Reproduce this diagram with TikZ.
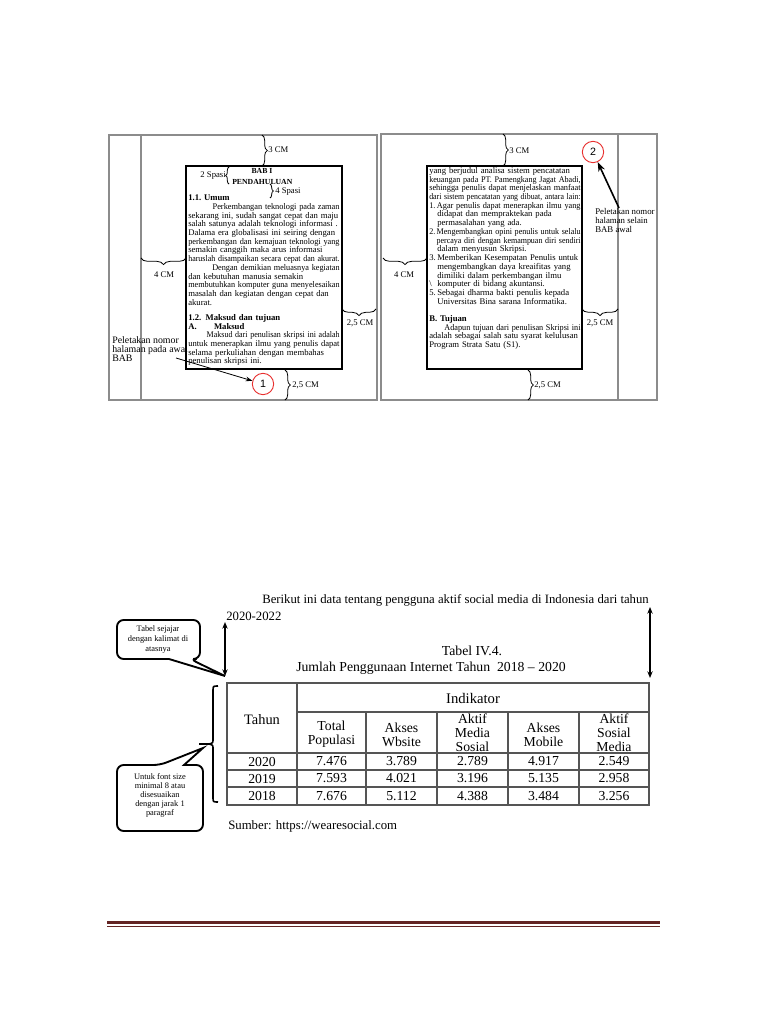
\documentclass[tikz,border=0pt]{standalone}
\usepackage{fontspec}
\setmainfont{Liberation Serif}
\newfontfamily\sansf{Liberation Sans}
\usepackage{graphicx}
\usetikzlibrary{decorations.pathreplacing,arrows.meta}
\setlength\parindent{0pt}
\newlength\bw
\setlength\bw{113.5pt}
\newsavebox\lnbox
\newcommand\jline[1]{\sbox\lnbox{#1}\ifdim\wd\lnbox>\bw\resizebox{\bw}{\height}{\usebox\lnbox}\else\makebox[\bw][s]{#1}\fi}
\newcommand\fline[1]{\sbox\lnbox{#1}\ifdim\wd\lnbox>\bw\resizebox{\bw}{\height}{\usebox\lnbox}\else\makebox[\bw][l]{#1}\fi}
\newcommand\nm[1]{\makebox[6pt][l]{#1}}
\newcommand\ind{\hspace*{6pt}}
\definecolor{framegray}{HTML}{8C8C8C}
\definecolor{numred}{HTML}{E8302F}
\definecolor{footred}{HTML}{632423}
\definecolor{tablegray}{HTML}{555555}
\begin{document}
\begin{tikzpicture}[x=0.75pt,y=-0.75pt,
  panel/.style={draw=framegray,line width=0.8pt},
  pagebox/.style={draw=black,line width=1.1pt},
  brc/.style={decorate,decoration={brace,amplitude=#1},line width=0.6pt},
  brc/.default=4pt,
  small/.style={inner sep=0pt,font=\fontsize{6.5}{6.6}\selectfont},
  blk/.style={inner sep=0pt,anchor=north west,align=left,text width=\bw,font=\fontsize{6.5}{6.55}\selectfont},
  annot/.style={inner sep=0pt,anchor=north west,align=left,font=\fontsize{7.4}{6.8}\selectfont},
  pgnum/.style={circle,draw=numred,line width=0.7pt,minimum size=16pt,inner sep=0pt,font=\sansf\fontsize{8}{8}\selectfont},
  ptr/.style={-{Stealth[length=5pt,width=3.5pt]},line width=0.6pt},
  dbl/.style={{Stealth[length=5pt,width=4pt]}-{Stealth[length=5pt,width=4pt]},line width=1.1pt},
  callout/.style={draw=black,line width=1.4pt,fill=white},
  ctext/.style={inner sep=0pt,align=center,font=\fontsize{6.3}{7.4}\selectfont},
  big/.style={inner sep=0pt,font=\fontsize{9.55}{10}\selectfont},
  cell/.style={inner sep=0pt,align=center,font=\fontsize{10.3}{10.6}\selectfont},
  tline/.style={draw=tablegray,line width=1pt},
]
\fill[white] (0,0) rectangle (768,1024);
\useasboundingbox (0,0) rectangle (768,1024);

% ---------- top figure: panels ----------
\draw[panel] (109,135) rectangle (377,400);
\draw[panel] (381,134) rectangle (657,400);
\draw[panel] (141,135) -- (141,400);
\draw[panel] (618,134) -- (618,400);
\draw[pagebox] (186,166) rectangle (342,369);
\draw[pagebox] (427,166) rectangle (582,369);

% ---------- left page ----------
\draw[brc] (262,135) -- (262,166);
\node[small,anchor=west] (t3L) at (268,150) {3 CM};
\node[small,font=\bfseries\fontsize{5.8}{6}\selectfont] (bab) at (262,171) {BAB I};
\draw[brc=2.5pt] (229,184) -- (229,167);
\node[small,anchor=east] (sp2) at (226,176) {2 Spasi};
\node[small,anchor=west,font=\bfseries\fontsize{5.8}{6}\selectfont] (pend) at (232,181.5) {PENDAHULUAN};
\draw[brc=2.5pt] (270,184) -- (270,198);
\node[small,anchor=west] (sp4) at (275,191.5) {4 Spasi};
\node[small,anchor=west,font=\bfseries\fontsize{6.5}{6.6}\selectfont] (u11) at (188,197.5) {1.1. Umum};
\node[blk] (bA) at (188,203) {%
\jline{\hspace*{19pt}Perkembangan teknologi pada zaman}\\
\jline{sekarang ini, sudah sangat cepat dan maju}\\
\jline{salah satunya adalah teknologi informasi .}\\
\jline{Dalama era globalisasi ini seiring dengan}\\
\jline{perkembangan dan kemajuan teknologi yang}\\
\jline{semakin canggih maka arus informasi}\\
\jline{haruslah disampaikan secara cepat dan akurat.}\\
\jline{\hspace*{19pt}Dengan demikian meluasnya kegiatan}\\
\jline{dan kebutuhan manusia semakin}\\
\jline{membutuhkan komputer guna menyelesaikan}\\
\jline{masalah dan kegiatan dengan cepat dan}\\
\fline{akurat.}};
\node[blk] (bB) at (188,314) {%
\fline{\textbf{1.2. Maksud dan tujuan}}\\
\fline{\textbf{A.\hspace{13pt}Maksud}}\\
\jline{\hspace*{15pt}Maksud dari penulisan skripsi ini adalah}\\
\jline{untuk menerapkan ilmu yang penulis dapat}\\
\jline{selama perkuliahan dengan membahas}\\
\fline{penulisan skripsi ini.}};
\draw[brc=5pt] (186,258) -- (141,258);
\node[small] (t4L) at (164,275) {4 CM};
\draw[brc=5pt] (376,309) -- (342,309);
\node[small] (t25L) at (360,323) {2,5 CM};
\draw[brc] (285,370) -- (285,400);
\node[small,anchor=west] (t25Lb) at (292,385) {2,5 CM};
\node[pgnum] (c1) at (263,384) {1};
\node[annot] (annL) at (112,336) {Peletakan nomor\\halaman pada awal\\BAB};
\coordinate (a1) at (176,358);
\draw[ptr] (a1) -- (c1);

% ---------- right page ----------
\draw[brc] (503,134) -- (503,166);
\node[small,anchor=west] (t3R) at (509,151) {3 CM};
\node[pgnum] (c2) at (593,152) {2};
\node[annot,font=\fontsize{6.6}{6.8}\selectfont] (annR) at (595,208) {Peletakan nomor\\halaman selain\\BAB awal};
\coordinate (a2) at (619,208);
\draw[ptr,line width=1.2pt,-{Stealth[length=7pt,width=5pt]}] (a2) -- (c2);
\node[blk] (bC) at (429,167) {%
\jline{yang berjudul analisa sistem pencatatan}\\
\jline{keuangan pada PT. Pamengkang Jagat Abadi,}\\
\jline{sehingga penulis dapat menjelaskan manfaat}\\
\jline{dari sistem pencatatan yang dibuat, antara lain:}\\
\fline{\nm{1.}Agar penulis dapat menerapkan ilmu yang}\\
\fline{\ind didapat dan mempraktekan pada}\\
\fline{\ind permasalahan yang ada.}\\
\fline{\nm{2.}Mengembangkan opini penulis untuk selalu}\\
\fline{\ind percaya diri dengan kemampuan diri sendiri}\\
\fline{\ind dalam menyusun Skripsi.}\\
\fline{\nm{3.}Memberikan Kesempatan Penulis untuk}\\
\fline{\ind mengembangkan daya kreaifitas yang}\\
\fline{\ind dimiliki dalam perkembangan ilmu}\\
\fline{\nm{\textbackslash}komputer di bidang akuntansi.}\\
\fline{\nm{5.}Sebagai dharma bakti penulis kepada}\\
\fline{\ind Universitas Bina sarana Informatika.}};
\node[blk] (bD) at (429,315) {%
\fline{\textbf{B. Tujuan}}\\
\jline{\hspace*{12pt}Adapun tujuan dari penulisan Skripsi ini}\\
\jline{adalah sebagai salah satu syarat kelulusan}\\
\fline{Program Strata Satu (S1).}};
\draw[brc=5pt] (427,258) -- (383,258);
\node[small] (t4R) at (404,275) {4 CM};
\draw[brc=5pt] (618,309) -- (582,309);
\node[small] (t25R) at (600,323) {2,5 CM};
\draw[brc] (528,370) -- (528,400);
\node[small,anchor=west] (t25Rb) at (534,385) {2,5 CM};

% ---------- bottom figure ----------
\node[big,anchor=west] (berikut) at (262,600) {Berikut ini data tentang pengguna aktif social media di Indonesia dari tahun};
\node[big,anchor=west] (yrs) at (226,616) {2020-2022};
\node[cell] (tabel) at (472,651) {Tabel IV.4.};
\node[cell] (jumlah) at (431,668) {Jumlah Penggunaan Internet Tahun\ \ 2018 – 2020};
\coordinate (dL1) at (225,622);
\coordinate (dL2) at (225,676);
\draw[dbl] (dL1) -- (dL2);
\coordinate (dR1) at (650,607);
\coordinate (dR2) at (650,678);
\draw[dbl] (dR1) -- (dR2);

% callout 1
\draw[callout,rounded corners=5pt] (117,640) -- (117,620) -- (200,620) -- (200,659) -- (190,659) [sharp corners] -- (225,676) -- (169,659) [rounded corners=5pt] -- (117,659) -- cycle;
\node[ctext] (co1) at (158,639.5) {Tabel sejajar\\dengan kalimat di\\atasnya};
% callout 2
\draw[callout,rounded corners=5pt] (117,800) -- (117,765) -- (160,765) [sharp corners] -- (203,748) -- (184,765) [rounded corners=5pt] -- (203,765) -- (203,831) -- (117,831) -- cycle;
\node[ctext,font=\fontsize{6.3}{6.75}\selectfont] (co2) at (160,795) {Untuk font size\\minimal 8 atau\\disesuaikan\\dengan jarak 1\\paragraf};
% brace by table
\draw[line width=1.2pt] (218,686) .. controls (213,686) .. (213,691) -- (213,739) .. controls (213,743) .. (209,744) -- (199,744)
  (209,744) .. controls (213,745) .. (213,749) -- (213,797) .. controls (213,802) .. (218,802);

% table
\draw[tline] (227,683) rectangle (649,805);
\draw[tline] (297,712) -- (649,712);
\draw[tline] (227,753) -- (649,753);
\draw[tline] (227,770) -- (649,770);
\draw[tline] (227,787) -- (649,787);
\draw[tline] (297,683) -- (297,805);
\foreach \xx in {366,437,508,579} \draw[tline] (\xx,712) -- (\xx,805);
\node[cell,font=\fontsize{11}{11}\selectfont] (hInd) at (473,698) {Indikator};
\node[cell,font=\fontsize{10.8}{11}\selectfont] (hTah) at (262,720) {Tahun};
\node[cell] (hTot) at (331.5,734.5) {Total\\Populasi};
\node[cell] (hWeb) at (401.5,734.5) {Akses\\Wbsite};
\node[cell] (hAMS) at (472.5,733) {Aktif\\Media\\Sosial};
\node[cell] (hMob) at (543.5,734.5) {Akses\\Mobile};
\node[cell] (hASM) at (614,733) {Aktif\\Sosial\\Media};
\foreach \rw/\yy/\va/\vb/\vc/\vd/\ve/\vf in {1/761.5/2020/7.476/3.789/2.789/4.917/2.549,2/778.5/2019/7.593/4.021/3.196/5.135/2.958,3/796/2018/7.676/5.112/4.388/3.484/3.256}{
  \node[cell] (d\rw-0) at (262,\yy) {\va};
  \node[cell] (d\rw-1) at (331.5,\yy) {\vb};
  \node[cell] (d\rw-2) at (401.5,\yy) {\vc};
  \node[cell] (d\rw-3) at (472.5,\yy) {\vd};
  \node[cell] (d\rw-4) at (543.5,\yy) {\ve};
  \node[cell] (d\rw-5) at (614,\yy) {\vf};
}
\node[big,anchor=west,font=\fontsize{9.6}{10}\selectfont] (src) at (228,826) {Sumber: https://wearesocial.com};

% footer
\draw[footred,line width=2.6pt] (107,922.6) -- (660,922.6);
\draw[footred,line width=0.9pt] (107,926.4) -- (660,926.4);
\end{tikzpicture}
\end{document}
